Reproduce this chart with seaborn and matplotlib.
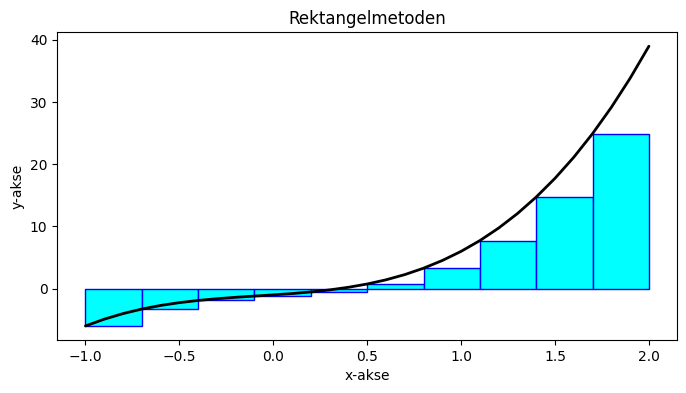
import matplotlib
matplotlib.use("Agg")
import matplotlib.pyplot as plt
import seaborn as sns
import pandas as pd

# Rectangle left endpoints and heights
rect_x = [-1.0, -0.7, -0.4, -0.1, 0.2, 0.5, 0.8, 1.1, 1.4, 1.7]
rect_h = [-6.0, -3.28, -1.9, -1.19, -0.53, 0.75, 3.29, 7.73, 14.74, 24.94]
rect_w = 0.3

# Curve points
curve_x = [-1.0, -0.9, -0.8, -0.7, -0.6, -0.5, -0.4, -0.3, -0.2, -0.1, 0.0,
           0.1, 0.2, 0.3, 0.4, 0.5, 0.6, 0.7, 0.8, 0.9, 1.0,
           1.1, 1.2, 1.3, 1.4, 1.5, 1.6, 1.7, 1.8, 1.9, 2.0]
curve_y = [-6.0, -4.91, -4.01, -3.28, -2.70, -2.25, -1.90, -1.62, -1.39, -1.19, -1.0,
           -0.79, -0.53, -0.20, 0.22, 0.75, 1.42, 2.26, 3.29, 4.53, 6.0,
           7.73, 9.75, 12.08, 14.74, 17.75, 21.14, 24.94, 29.17, 33.85, 39.0]

sns.set_style("ticks", rc={"text.color": "black", "axes.labelcolor": "black",
                           "xtick.color": "black", "ytick.color": "black",
                           "axes.edgecolor": "black"})
plt.rcParams['font.family'] = ['DejaVu Sans']

fig, ax = plt.subplots(figsize=(6.86, 3.93), dpi=100)
fig.subplots_adjust(left=0.0835, right=0.987, top=0.918, bottom=0.135)

ax.bar(rect_x, rect_h, width=rect_w, align='edge', color='cyan', edgecolor='blue', linewidth=1)
df = pd.DataFrame({"x": curve_x, "y": curve_y})
sns.lineplot(data=df, x="x", y="y", ax=ax, color='black', linewidth=2)

ax.set_title("Rektangelmetoden")
ax.set_xlabel("x-akse")
ax.set_ylabel("y-akse")
for s in ax.spines.values():
    s.set_visible(True)

fig.savefig("out.png", dpi=100)
